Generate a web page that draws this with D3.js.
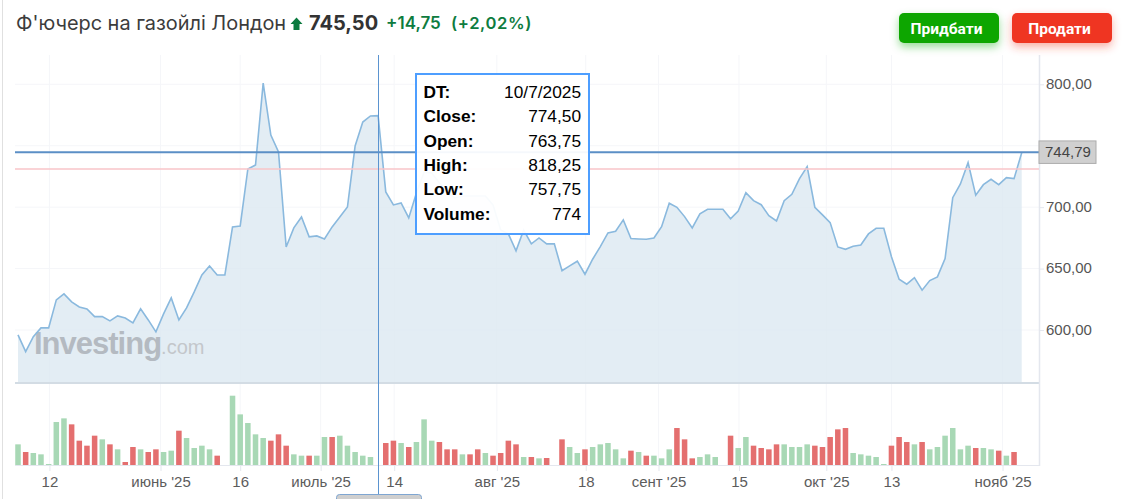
<!DOCTYPE html>
<html><head><meta charset="utf-8">
<script src="https://cdn.jsdelivr.net/npm/d3@7"></script>
<style>
html,body{margin:0;padding:0;background:#fff;overflow:hidden}
svg{display:block}
text{font-family:"Liberation Sans",Arial,sans-serif}
.ttl{font-family:Inter,Roboto,sans-serif}
.btn{font-family:Roboto,sans-serif}
</style></head><body>
<svg id="c" width="1124" height="499"></svg>
<script>
const closes=[596,582.4,594.6,601.7,601.7,624.5,629.4,622.9,618.8,617.2,610.9,610.9,607.4,611.5,609.8,605.8,617.2,608.2,598.5,613.1,626.1,608.2,618,631,644.8,652.2,644.8,644.8,683.9,684.7,731.1,734.3,801,758.7,744.9,667.6,683.1,692,675.8,676.6,674.1,683.9,692,700.2,749.8,769.3,774.2,774.5,712.4,701.8,703.4,691.2,711.6,728.6,727.8,719.7,712.4,707.5,709.1,709.1,709.1,709.1,701.8,681.4,678.2,664.4,681.4,670.1,674.9,670.1,670.1,648.3,652.2,656,645.4,657.6,667.9,679,680.4,689.6,674.4,674.1,673.9,674.9,684.1,703.2,699.9,692.3,683.1,694.5,698.3,698.3,698.3,690.6,696.9,711.8,705.3,702,693.1,688.8,705.3,710.5,723.2,733,699.9,693.7,687.4,667.6,665.7,668.2,669.2,678.2,682.8,682.8,659.7,641.3,637.3,642.6,632.4,640.2,643.2,658.1,707.7,718.9,736.2,709.7,718.3,722.7,718.3,724,723.2,744.3];
const volumes=[62,39,36,32,3,129,140,122,73,58,88,77,62,47,9,54,47,39,47,39,43,103,81,51,58,47,28,0,208,152,126,92,81,73,92,58,32,28,28,28,84,84,88,58,39,28,24,0,66,73,66,54,69,137,73,69,47,47,32,32,47,36,28,36,73,62,24,24,20,21,0,77,54,36,47,54,62,66,47,20,43,39,28,28,20,47,111,77,20,24,32,24,0,88,51,84,58,51,47,62,62,54,54,62,58,54,84,107,111,36,32,28,24,3,58,84,69,62,69,47,54,88,111,47,58,51,51,47,43,28,39,0];
const directions="GRGGGGGRRRRGRGRRGRRGGRGGGGR-GGGGGRRRGGRGGRGGGGG-RRGRGGGRRRGRRGRRRRGRGR-RGGRGGGGGRGRGGGRRRGGG-RGGRRRRGGGGRRRRRGGGGGRRRGRGGGGGGRGGRGR-";
const tickIdx=[4.1,18.6,29,39.5,49.1,62.5,74.1,83.6,94.1,105.5,114,128.5];
const tickLabels=["12","июнь '25","16","июль '25","14","авг '25","18","сент '25","15","окт '25","13","нояб '25"];
const priceTicks=[600,650,700,750,800];
const tooltipKeys=["DT:","Close:","Open:","High:","Low:","Volume:"];
const tooltipVals=["10/7/2025","774,50","763,75","818,25","757,75","774"];
const lastPrice=744.79, redLevel=731, hoverIdx=47;

const svg=d3.select("#c");
const x=d3.scaleLinear().domain([0,131]).range([18,1021.7]);
const y=d3.scaleLinear().domain([600,800]).range([330,84.3]);
const vY=d3.scaleLinear().domain([0,208]).range([465,395.7]);
const fmt=v=>d3.format(".2f")(v).replace(".",",");
const L=15,R=1039,T=55,B=465,SEP=383;

svg.append("line").attr("x1",2.5).attr("x2",2.5).attr("y1",0).attr("y2",499).attr("stroke","#e0e0e0");

const g=svg.append("g").attr("stroke","#f5f6f9");
g.selectAll(".gh").data(priceTicks).join("line").attr("x1",L).attr("x2",R).attr("y1",d=>y(d)).attr("y2",d=>y(d));
g.selectAll(".gv").data(tickIdx).join("line").attr("x1",d=>x(d)).attr("x2",d=>x(d)).attr("y1",T).attr("y2",B);

const area=d3.area().x((d,i)=>x(i)).y0(SEP).y1(d=>y(d));
svg.append("path").datum(closes).attr("d",area).attr("fill","#dce8f1").attr("fill-opacity",.8);

const wm=svg.append("text").attr("x",34).attr("y",354);
wm.append("tspan").text("Investing").attr("font-size",31).attr("font-weight",700).attr("fill","#b4bac1").attr("letter-spacing",-1);
wm.append("tspan").text(".com").attr("font-size",20).attr("fill","#c3c7cb");

svg.append("path").datum(closes).attr("d",d3.line().x((d,i)=>x(i)).y(d=>y(d))).attr("fill","none").attr("stroke","#8ab9de").attr("stroke-width",1.6);

svg.append("line").attr("x1",L).attr("x2",R).attr("y1",SEP).attr("y2",SEP).attr("stroke","#d3dce4").attr("stroke-width",2);
svg.append("line").attr("x1",L).attr("x2",R).attr("y1",B+.5).attr("y2",B+.5).attr("stroke","#e4e7ee");
svg.append("line").attr("x1",R+.5).attr("x2",R+.5).attr("y1",T).attr("y2",B+1).attr("stroke","#e4e7ee").attr("stroke-width",1.5);

const bw=(x(1)-x(0))*.72;
svg.append("g").selectAll("rect").data(volumes).join("rect")
 .attr("x",(d,i)=>x(i)-bw/2).attr("width",bw)
 .attr("y",d=>vY(d)).attr("height",d=>vY(0)-vY(d))
 .attr("fill",(d,i)=>directions[i]==="R"?"#e46f6f":"#a8d8b5");

const xa=svg.append("g").attr("transform",`translate(0,${B+1})`).call(
  d3.axisBottom(x).tickValues(tickIdx).tickFormat((d,i)=>tickLabels[i]).tickSize(5).tickPadding(5));
xa.select(".domain").remove();
xa.selectAll("line").attr("stroke","#e4e7ee");
xa.selectAll("text").attr("fill","#5c5c5c").attr("font-size",15).attr("font-family",'"Liberation Sans",Arial,sans-serif');

const ya=svg.append("g").attr("transform",`translate(${R},-0.500)`).call(
  d3.axisRight(y).tickValues(priceTicks).tickFormat(fmt).tickSize(5).tickPadding(2));
ya.select(".domain").remove();
ya.selectAll("line").attr("stroke","#e4e7ee").attr("transform","translate(0,0.500)");
ya.selectAll("text").attr("fill","#555").attr("font-size",15).attr("font-family",'"Liberation Sans",Arial,sans-serif');

svg.append("line").attr("x1",L).attr("x2",R).attr("y1",y(redLevel)).attr("y2",y(redLevel)).attr("stroke","#f9c4c8").attr("stroke-width",1.5);
svg.append("line").attr("x1",L).attr("x2",R).attr("y1",y(lastPrice)).attr("y2",y(lastPrice)).attr("stroke","#5b8fc6").attr("stroke-width",2);
svg.append("line").attr("x1",x(hoverIdx)).attr("x2",x(hoverIdx)).attr("y1",T).attr("y2",496).attr("stroke","#5b94d0").attr("stroke-width",1).attr("shape-rendering","crispEdges");

svg.append("rect").attr("x",R).attr("y",y(lastPrice)-11.2).attr("width",57).attr("height",22.5).attr("fill","#d0d0d0").attr("stroke","#acacac");
svg.append("text").attr("x",R+6).attr("y",y(lastPrice)+5).attr("font-size",15).attr("fill","#444").text(fmt(lastPrice));

svg.append("rect").attr("x",336.5).attr("y",494.5).attr("width",85).attr("height",10).attr("rx",3).attr("fill","#cfcfcf").attr("stroke","#7fa6d2");

svg.append("rect").attr("x",416).attr("y",74).attr("width",173).attr("height",160).attr("fill","#fff").attr("fill-opacity",.94).attr("stroke","#4d9eff").attr("stroke-width",2);
const tt=svg.append("g").attr("font-size",17.3).attr("fill","#000");
tt.selectAll(".k").data(tooltipKeys).join("text").attr("x",423.5).attr("y",(d,i)=>97.8+i*24.4).attr("font-weight",700).text(d=>d);
tt.selectAll(".v").data(tooltipVals).join("text").attr("x",581).attr("y",(d,i)=>97.8+i*24.4).attr("text-anchor","end").text(d=>d);

svg.append("text").attr("class","ttl").attr("x",16).attr("y",30).attr("font-size",19.9).attr("fill","#3c3c3c").text("Ф'ючерс на газойлі Лондон");
svg.append("path").attr("d","M296.500 17.500 L302.500 24 L299.500 24 L299.500 30 L293.500 30 L293.500 24 L290.500 24 Z").attr("fill","#0a7a3e");
svg.append("text").attr("class","ttl").attr("x",309).attr("y",30).attr("font-size",20).attr("font-weight",700).attr("fill","#333").text("745,50");
svg.append("text").attr("class","ttl").attr("x",386).attr("y",29).attr("font-size",17).attr("font-weight",600).attr("fill","#0e7c3f").text("+14,75");
svg.append("text").attr("class","ttl").attr("x",451).attr("y",29).attr("font-size",16.6).attr("font-weight",600).attr("fill","#0e7c3f").attr("letter-spacing",.6).text("(+2,02%)");

const defs=svg.append("defs");
[["gs","#0ea60066"],["rs","#ef352466"]].forEach(([id,c])=>{
  defs.append("filter").attr("id",id).attr("x","-20%").attr("y","-40%").attr("width","140%").attr("height","200%")
   .append("feDropShadow").attr("dx",0).attr("dy",4).attr("stdDeviation",4).attr("flood-color",c);
});
[[899,"#0ea600","Придбати","gs"],[1012,"#ef3524","Продати","rs"]].forEach(([bx,c,t,f])=>{
  svg.append("rect").attr("x",bx).attr("y",13).attr("width",100).attr("height",30).attr("rx",5).attr("fill",c).attr("filter",`url(#${f})`);
  svg.append("text").attr("x",bx+47.5).attr("y",33.500).attr("text-anchor","middle").attr("font-size",15.5).attr("font-weight",700).attr("fill","#fff").attr("class","btn").text(t);
});
</script></body></html>
